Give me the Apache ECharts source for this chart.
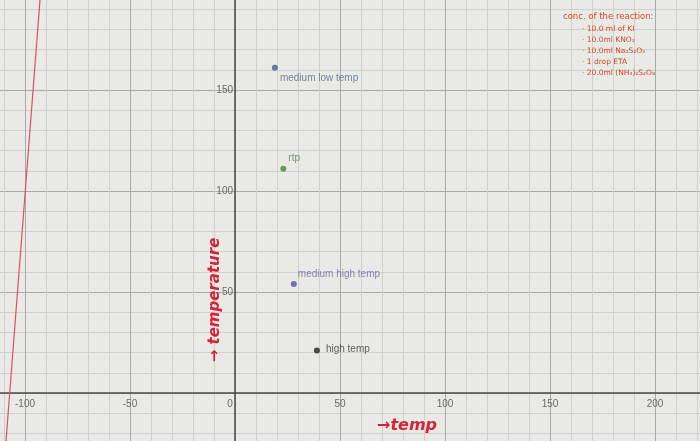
<!DOCTYPE html>
<html><head><meta charset="utf-8">
<script src="https://cdn.jsdelivr.net/npm/echarts@6/dist/echarts.min.js"></script>
<style>html,body{margin:0;padding:0;background:#e9e9e5}#c{width:700px;height:441px}</style>
</head><body><div id="c"></div>
<script>
const pointNames = ['medium low temp', 'rtp', 'medium high temp', 'high temp'];
const xValues = [19, 23, 28, 39];
const yValues = [161, 111, 54, 21];
const xTicks = [-150, -100, -50, 0, 50, 100, 150, 200, 250];
const yTicks = [-50, 0, 50, 100, 150, 200];
const noteLines = ['conc. of the reaction:', '· 10.0 ml of KI', '· 10.0ml KNO₃', '· 10.0ml Na₂S₂O₃', '· 1 drop ETA', '· 20.0ml (NH₄)₂S₂O₈'];

const dotColors = ['#3f5f9a', '#3d8a3d', '#4f4fb0', '#222222'];
const labelColors = ['#5a6a8c', '#5e7a5e', '#6a6aa8', '#3a3a3a'];
const labelPos = [[5, 11], [5, -10], [4, -9], [9, 0]];

const W = 700, H = 441;
const gridL = -80, gridR = -60, gridT = -11, gridB = -53;
const xMin = xTicks[0], xMax = xTicks[xTicks.length - 1];
const yMin = yTicks[0], yMax = yTicks[yTicks.length - 1];
const gw = W - gridL - gridR, gh = H - gridT - gridB;
const xOffset = -(gh * (0 - yMin) / (yMax - yMin));
const yOffset = -(gw * (0 - xMin) / (xMax - xMin));

const chart = echarts.init(document.getElementById('c'));
const data = pointNames.map((n, i) => ({
  name: n, value: [xValues[i], yValues[i]],
  itemStyle: { color: dotColors[i] },
  label: { show: true, formatter: n, position: [labelPos[i][0] + 3, labelPos[i][1] - 3],
    color: labelColors[i], fontSize: 10, fontFamily: 'Liberation Sans, Arial, sans-serif' }
}));
const graphics = [
  { type: 'line', shape: { x1: 40, y1: 0, x2: 6, y2: 441 }, style: { stroke: '#d8545c', lineWidth: 1.2 }, z: 10 },
  { type: 'text', x: 215, y: 300, rotation: Math.PI / 2, style: { text: '→ temperature', fill: '#d3243a', font: 'italic bold 15px DejaVu Sans', textAlign: 'center', textVerticalAlign: 'middle' }, z: 10 },
  { type: 'text', x: 407, y: 426, style: { text: '→temp', fill: '#d3243a', font: 'italic bold 16px DejaVu Sans', textAlign: 'center', textVerticalAlign: 'middle' }, z: 10 }
];
noteLines.forEach((t, i) => {
  graphics.push({ type: 'text', x: i === 0 ? 563 : 582, y: i === 0 ? 17 : 18 + i * 11,
    style: { text: t, fill: '#cf4a2a', font: (i === 0 ? '8.5px' : '7.5px') + ' DejaVu Sans', textVerticalAlign: 'middle' }, z: 10 });
});

chart.setOption({
  backgroundColor: '#e9e9e5',
  animation: false,
  grid: { left: gridL, right: gridR, top: gridT, bottom: gridB, containLabel: false, outerBoundsMode: 'none' },
  xAxis: {
    type: 'value', min: xMin, max: xMax, interval: 50, position: 'bottom', offset: xOffset,
    axisLine: { onZero: false, lineStyle: { color: '#4a4a4a', width: 1.5 } },
    axisTick: { show: false },
    axisLabel: { color: '#6a6a6a', fontSize: 10, margin: 6, fontFamily: 'Liberation Sans, Arial, sans-serif',
      formatter: v => (v === 0 ? '{z|0}' : String(v)),
      rich: { z: { padding: [0, 10, 0, 0], color: '#6a6a6a', fontSize: 10 } } },
    splitLine: { show: true, lineStyle: { color: '#a9a9a6', width: 1 } },
    minorTick: { show: false, splitNumber: 5 },
    minorSplitLine: { show: true, lineStyle: { color: '#d0d0cc', width: 1 } }
  },
  yAxis: {
    type: 'value', min: yMin, max: yMax, interval: 50, position: 'left', offset: yOffset,
    axisLine: { onZero: false, lineStyle: { color: '#4a4a4a', width: 1.5 } },
    axisTick: { show: false },
    axisLabel: { color: '#6a6a6a', fontSize: 10, margin: 2, fontFamily: 'Liberation Sans, Arial, sans-serif',
      formatter: v => (v === 0 ? '' : String(v)) },
    splitLine: { show: true, lineStyle: { color: '#a9a9a6', width: 1 } },
    minorTick: { show: false, splitNumber: 5 },
    minorSplitLine: { show: true, lineStyle: { color: '#d0d0cc', width: 1 } }
  },
  series: [{ type: 'scatter', symbolSize: 6, data: data }],
  graphic: graphics
});
</script></body></html>
